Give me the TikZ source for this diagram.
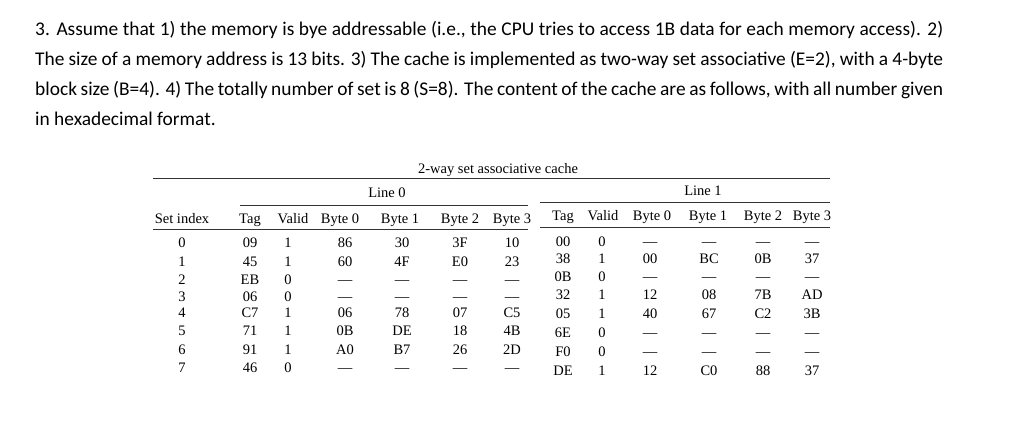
\documentclass[tikz,border=0pt]{standalone}
\usepackage{fontspec}
\setmainfont{Liberation Serif}
\newfontfamily\calib{Carlito}
\begin{document}
\begin{tikzpicture}[x=1pt,y=-1pt,
  cell/.style={font=\fontsize{14.5}{16}\selectfont,inner sep=0pt,anchor=base},
  rul/.style={line width=0.9pt,draw=black!80}]
\useasboundingbox (0,0) rectangle (1021,445);
\node[anchor=north west,inner sep=0pt,font=\calib\fontsize{19.4}{30}\selectfont,text width=908pt,align=justify] (para) at (35,21)
{3. Assume that 1) the memory is bye addressable (i.e., the CPU tries to access 1B data for each memory access). 2) The size of a memory address is 13 bits. 3) The cache is implemented as two-way set associative (E=2), with a 4-byte block size (B=4). 4) The totally number of set is 8 (S=8). The content of the cache are as follows, with all number given in hexadecimal format.};
% rules
\draw[rul] (153,178) -- (830,178);
\draw[rul] (240,205) -- (528,205);
\draw[rul] (540,202) -- (830,202);
\draw[rul] (153,229) -- (528,229);
\draw[rul] (540,227) -- (830,227);
\node[cell] (title) at (498,173) {2-way set associative cache};
\node[cell] (l0) at (387,197) {Line 0};
\node[cell] (l1) at (703,195) {Line 1};
% header
\foreach \x/\t in {182/Set index,250/Tag,293/Valid,340/Byte 0,400/Byte 1,460/Byte 2,512/Byte 3}
  \node[cell] at (\x,223) {\t};
\foreach \x/\t in {563/Tag,603/Valid,652/Byte 0,708/Byte 1,763/Byte 2,812/Byte 3}
  \node[cell] at (\x,220) {\t};
% left rows
\foreach \y/\i/\a/\b/\c/\d/\e/\f in {
 247/0/09/1/86/30/3F/10,
 266/1/45/1/60/4F/E0/23,
 284/2/EB/0/---/---/---/---,
 301/3/06/0/---/---/---/---,
 317/4/C7/1/06/78/07/C5,
 335/5/71/1/0B/DE/18/4B,
 354/6/91/1/A0/B7/26/2D,
 372/7/46/0/---/---/---/---}{
 \node[cell] at (182,\y) {\i};
 \node[cell] at (250,\y) {\a};
 \node[cell] at (288,\y) {\b};
 \node[cell] at (345,\y) {\c};
 \node[cell] at (402,\y) {\d};
 \node[cell] at (460,\y) {\e};
 \node[cell] at (512,\y) {\f};}
% right rows
\foreach \y/\a/\b/\c/\d/\e/\f in {
 246/00/0/---/---/---/---,
 263/38/1/00/BC/0B/37,
 281/0B/0/---/---/---/---,
 299/32/1/12/08/7B/AD,
 318/05/1/40/67/C2/3B,
 337/6E/0/---/---/---/---,
 356/F0/0/---/---/---/---,
 375/DE/1/12/C0/88/37}{
 \node[cell] at (563,\y) {\a};
 \node[cell] at (602,\y) {\b};
 \node[cell] at (650,\y) {\c};
 \node[cell] at (709,\y) {\d};
 \node[cell] at (763,\y) {\e};
 \node[cell] at (812,\y) {\f};}
\end{tikzpicture}
\end{document}
